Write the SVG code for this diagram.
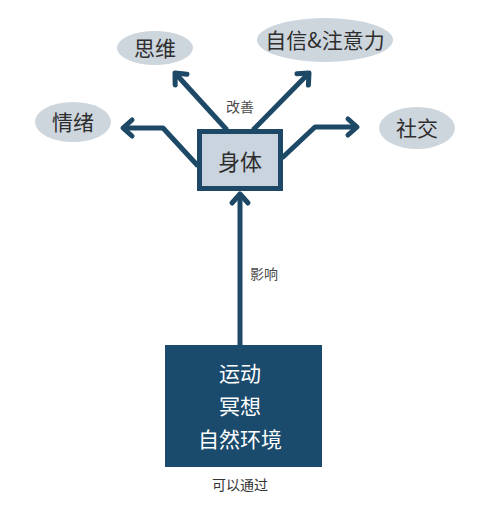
<svg xmlns="http://www.w3.org/2000/svg" width="500" height="520" viewBox="0 0 500 520">
<style>
.bg{fill:#ffffff}
.ell{fill:#cdd5dd}
.t{font-family:"Noto Sans CJK SC","Noto Sans",sans-serif;text-anchor:middle;dominant-baseline:central}
.dark{fill:#2e2e2e;font-size:21px}
.lbl{fill:#4a4a4a;font-size:14px}
.white{fill:#ffffff;font-size:21px}
.conn{fill:none;stroke:#1d4866;stroke-width:5;stroke-linejoin:round}
</style>
<defs>
<marker id="ah" markerUnits="userSpaceOnUse" markerWidth="30" markerHeight="30" refX="0" refY="0" viewBox="-15 -15 30 30" orient="auto" overflow="visible">
<path d="M-9,-8 L0,0 L-9,8" fill="none" stroke="#1d4866" stroke-width="5" stroke-linecap="round" stroke-linejoin="round"/>
</marker>
</defs>
<rect class="bg" x="0" y="0" width="500" height="520"/>
<g id="connectors">
<path class="conn" d="M227,130 L175,73" marker-end="url(#ah)"/>
<path class="conn" d="M253,130 L309,73" marker-end="url(#ah)"/>
<path class="conn" d="M198,166 L163,128 L123,128" marker-end="url(#ah)"/>
<path class="conn" d="M282,158 L315,127 L357,127" marker-end="url(#ah)"/>
<path class="conn" d="M240,345 L240,194" marker-end="url(#ah)"/>
<text class="t lbl" x="240" y="106">改善</text>
<text class="t lbl" x="264" y="273">影响</text>
</g>
<g id="node-siwei">
<ellipse class="ell" cx="155" cy="48" rx="38" ry="17"/>
<text class="t dark" x="155" y="47">思维</text>
</g>
<g id="node-zixin">
<ellipse class="ell" cx="325" cy="40" rx="68" ry="22"/>
<text class="t dark" x="325" y="39">自信&amp;注意力</text>
</g>
<g id="node-qingxu">
<ellipse class="ell" cx="73" cy="122" rx="38" ry="20"/>
<text class="t dark" x="73" y="121">情绪</text>
</g>
<g id="node-shejiao">
<ellipse class="ell" cx="417" cy="128" rx="38" ry="21"/>
<text class="t dark" x="417" y="127">社交</text>
</g>
<g id="node-shenti">
<rect x="199.5" y="131.5" width="81" height="57" fill="#c9d4de" stroke="#1d4866" stroke-width="5"/>
<text class="t dark" x="240" y="160" style="font-size:22px">身体</text>
</g>
<g id="node-source">
<rect x="165" y="345" width="157" height="122" fill="#1a4a6c"/>
<text class="t white" x="240" y="372">运动</text>
<text class="t white" x="240" y="405">冥想</text>
<text class="t white" x="240" y="438">自然环境</text>
<text class="t lbl" x="240" y="484" style="fill:#333">可以通过</text>
</g>
</svg>
